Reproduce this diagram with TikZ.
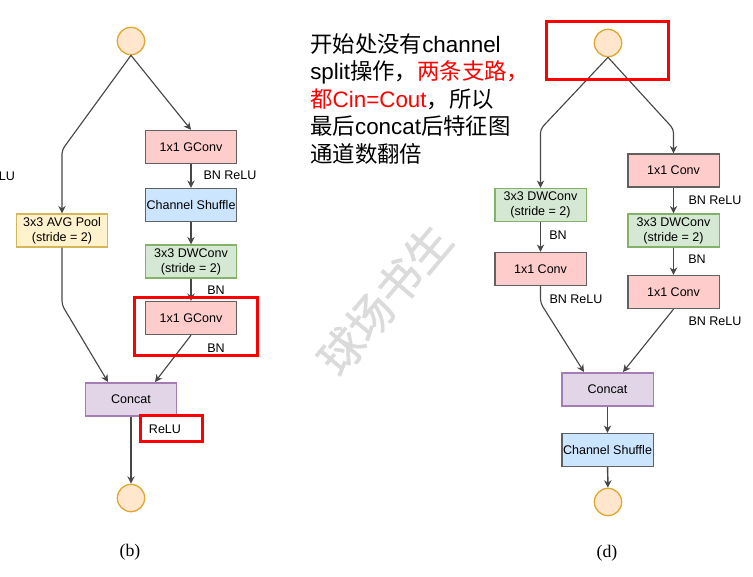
\documentclass[tikz,border=0pt]{standalone}
\usepackage{fontspec}
\setmainfont{Liberation Sans}
\newfontfamily\cjk{Noto Sans CJK SC}
\newfontfamily\wmfont[FakeBold=1.2]{Noto Sans CJK SC}
\newfontfamily\capfont{Liberation Serif}
\usetikzlibrary{arrows.meta}
\definecolor{ConvPink}{RGB}{255,204,204}
\definecolor{ShuffleBlue}{RGB}{204,229,255}
\definecolor{DwGreen}{RGB}{213,232,212}
\definecolor{DwEdge}{RGB}{130,179,102}
\definecolor{PoolYellow}{RGB}{255,242,204}
\definecolor{PoolEdge}{RGB}{214,182,86}
\definecolor{ConcatPurple}{RGB}{225,213,231}
\definecolor{ConcatEdge}{RGB}{165,125,180}
\definecolor{PortOrange}{RGB}{255,230,204}
\definecolor{PortEdge}{RGB}{224,168,48}
\tikzset{
  block/.style={draw,line width=1pt,minimum width=68.5pt,minimum height=24.8pt,inner sep=0pt,align=center,font=\fontsize{9.4}{11.2}\selectfont},
  conv/.style={block,draw=black!62,fill=ConvPink},
  shuffle/.style={block,draw=black!62,fill=ShuffleBlue},
  dwconv/.style={block,draw=DwEdge,fill=DwGreen},
  pool/.style={block,draw=PoolEdge,fill=PoolYellow},
  concat/.style={block,draw=ConcatEdge,fill=ConcatPurple},
  port/.style={circle,draw=PortEdge,line width=1pt,fill=PortOrange,minimum size=20.5pt,inner sep=0pt},
  tag/.style={inner sep=0pt,font=\fontsize{9.4}{11.2}\selectfont},
  link/.style={draw=black!72,line width=0.85pt,rounded corners=3pt,-{Stealth[length=5.5pt,width=5.5pt]}},
  heavy link/.style={link,line width=1.1pt},
  mark box/.style={draw=red,line width=2.3pt},
}
\begin{document}
\begin{tikzpicture}[x=0.75pt,y=-0.75pt]
  \useasboundingbox (0,0) rectangle (753,577);
  % watermark
  \node[rotate=50,text=black!14,font=\wmfont\fontsize{33.5}{34}\selectfont,inner sep=0pt] (wmark) at (384.5,299.5) {球场书生};
  % (b)
  \node[port] (bIn) at (131,41) {};
  \node[conv] (bConvA) at (191,147) {1x1 GConv};
  \node[shuffle] (bShuffle) at (191,205) {Channel Shuffle};
  \node[dwconv] (bDw) at (191,261.5) {3x3 DWConv\\(stride = 2)};
  \node[conv] (bConvB) at (191,318) {1x1 GConv};
  \node[pool] (bPool) at (62,230.5) {3x3 AVG Pool\\(stride = 2)};
  \node[concat] (bConcat) at (131,399.5) {Concat};
  \node[port] (bOut) at (131,498) {};
  \coordinate (bBendA) at (62,150);
  \coordinate (bBendB) at (62,305);
  \coordinate (bConcatL) at (108,382);
  \coordinate (bConcatR) at (155,382);
  \draw[link] (bIn.south) -- (bBendA) -- (bPool.north);
  \draw[link] (bIn.south) -- (bConvA.north);
  \draw[heavy link] (bConvA) -- (bShuffle);
  \draw[link] (bShuffle) -- (bDw);
  \draw[heavy link] (bDw) -- (bConvB);
  \draw[link] (bPool.south) -- (bBendB) -- (bConcatL);
  \draw[link] (bConvB.south) -- (bConcatR);
  \draw[heavy link] (bConcat) -- (bOut);
  \node[tag] (tagLU) at (7,176) {LU};
  \node[tag] (tagB1) at (230,175) {BN ReLU};
  \node[tag] (tagB2) at (216,290) {BN};
  \node[tag] (tagB3) at (216,348) {BN};
  \node[tag] (tagB4) at (165,429) {ReLU};
  \node[font=\capfont\fontsize{13.3}{16}\selectfont,inner sep=0pt] (capB) at (130,552.5) {(b)};
  \draw[mark box] (134.5,297.5) rectangle (257.5,355.5);
  \draw[mark box] (140.5,415.5) rectangle (202.5,441.5);
  % note
  \node[anchor=north west,inner sep=0pt,align=left,font=\fontsize{16.8}{20.7}\selectfont] (note) at (310,33) {%
    {\cjk 开始处没有}channel\\
    split{\cjk 操作，}\textcolor{red}{\cjk 两条支路，}\\
    \textcolor{red}{{\cjk 都}Cin=Cout}{\cjk ，所以}\\
    {\cjk 最后}concat{\cjk 后特征图}\\
    {\cjk 通道数翻倍}};
  % (d)
  \node[port] (dIn) at (608,43) {};
  \node[conv] (dConvA) at (673.5,170.5) {1x1 Conv};
  \node[dwconv] (dDwR) at (673.5,230.5) {3x3 DWConv\\(stride = 2)};
  \node[conv] (dConvB) at (673.5,292) {1x1 Conv};
  \node[dwconv] (dDwL) at (540.5,205) {3x3 DWConv\\(stride = 2)};
  \node[conv] (dConvC) at (540.5,269) {1x1 Conv};
  \node[concat] (dConcat) at (607.5,389.5) {Concat};
  \node[shuffle] (dShuffle) at (607.5,450) {Channel Shuffle};
  \node[port] (dOut) at (608,502) {};
  \coordinate (dBendA) at (540.5,129);
  \coordinate (dBendB) at (673.5,129);
  \coordinate (dBendC) at (540.5,303);
  \coordinate (dConcatL) at (584,372);
  \coordinate (dConcatR) at (623,372);
  \draw[link] (dIn.south) -- (dBendA) -- (dDwL.north);
  \draw[link] (dIn.south) -- (dBendB) -- (dConvA.north);
  \draw[link] (dConvA) -- (dDwR);
  \draw[link] (dDwR) -- (dConvB);
  \draw[heavy link] (dDwL) -- (dConvC);
  \draw[link] (dConvC.south) -- (dBendC) -- (dConcatL);
  \draw[link] (dConvB.south) -- (dConcatR);
  \draw[heavy link] (dConcat) -- (dShuffle);
  \draw[heavy link] (dShuffle) -- (dOut);
  \node[tag] (tagD1) at (715,200) {BN ReLU};
  \node[tag] (tagD2) at (697,259) {BN};
  \node[tag] (tagD3) at (715,321) {BN ReLU};
  \node[tag] (tagD4) at (558,235) {BN};
  \node[tag] (tagD5) at (576,299) {BN ReLU};
  \node[font=\capfont\fontsize{13.3}{16}\selectfont,inner sep=0pt] (capD) at (607,553.5) {(d)};
  \draw[mark box] (546.5,21.5) rectangle (668.5,79.5);
\end{tikzpicture}
\end{document}
